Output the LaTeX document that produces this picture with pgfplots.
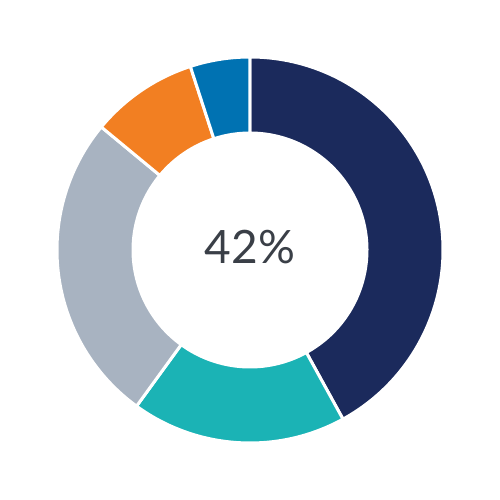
\documentclass[border=0pt]{standalone}
\usepackage{pgfplots}
\usepackage{pgfplotstable}
\pgfplotsset{compat=1.18}
\usepackage{fontspec}
\setmainfont{Lato}
\definecolor{navy}{HTML}{1B2A5C}
\definecolor{teal}{HTML}{1BB3B5}
\definecolor{slate}{HTML}{A8B3C1}
\definecolor{orange}{HTML}{F27F22}
\definecolor{blue}{HTML}{0072B2}
\definecolor{labelgray}{HTML}{3A3F47}

% share (percent) and colour of each slice, clockwise from 12 o'clock
\pgfplotstableread{
share color
42 navy
18 teal
26 slate
9 orange
5 blue
}\sharetable

\begin{document}
\begin{tikzpicture}
  \begin{axis}[
    x=0.5pt, y=0.5pt,
    xmin=-250, xmax=250,
    ymin=-250, ymax=250,
    hide axis,
    clip=false,
    ]
    \fill[white] (axis cs:-250,-250) rectangle (axis cs:250,250);
    \def\cum{0}
    \pgfplotsforeachungrouped \i in {0,...,4}{%
      \pgfplotstablegetelem{\i}{share}\of\sharetable
      \let\v\pgfplotsretval
      \pgfplotstablegetelem{\i}{color}\of\sharetable
      \let\c\pgfplotsretval
      \pgfmathsetmacro\a{90-3.6*\cum}
      \pgfmathsetmacro\b{90-3.6*(\cum+\v)}
      \edef\temp{\noexpand\filldraw[fill=\c, draw=white, line width=1.5pt]
        ([shift={(\a:96.5pt)}]axis cs:0,0)
        arc[start angle=\a, end angle=\b, radius=96.5pt]
        -- ([shift={(\b:58.5pt)}]axis cs:0,0)
        arc[start angle=\b, end angle=\a, radius=58.5pt] -- cycle;}
      \temp
      \pgfmathsetmacro\cum{\cum+\v}
    }
    \node[font=\fontsize{23}{28}\selectfont, text=labelgray]
      at (axis cs:0,3) {42\%};
  \end{axis}
\end{tikzpicture}
\end{document}
